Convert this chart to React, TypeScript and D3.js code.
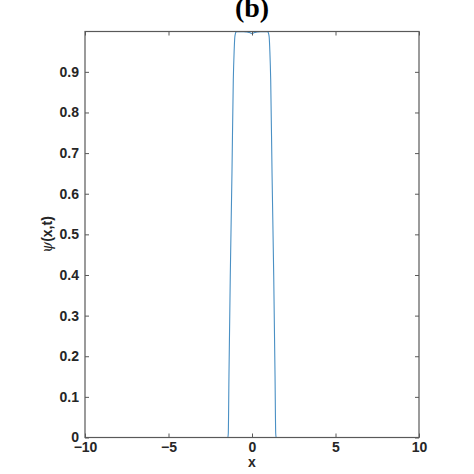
import React, { useEffect, useRef } from 'react';
import * as d3 from 'd3';

// values
const xValues = [-10, -1.6, -1.45, -1.42, -1.38, -1.3, -1.2, -1.12, -1.07, -1.03, -1.0, -0.96, -0.9, -0.7, -0.5, -0.3, -0.15, -0.05, 0,
  0.05, 0.15, 0.3, 0.5, 0.7, 0.9, 0.96, 1.0, 1.03, 1.07, 1.12, 1.2, 1.3, 1.38, 1.42, 1.45, 1.6, 10];
const psiValues = [0, 0, 0, 0.01, 0.15, 0.4, 0.65, 0.88, 0.95, 0.985, 0.993, 0.998, 0.999, 0.999, 0.999, 0.998, 0.997, 0.995, 0.994,
  0.995, 0.997, 0.998, 0.999, 0.999, 0.999, 0.998, 0.993, 0.985, 0.95, 0.88, 0.65, 0.4, 0.15, 0.01, 0, 0, 0];
const xTicks = [-10, -5, 0, 5, 10];
const yTicks = [0, 0.1, 0.2, 0.3, 0.4, 0.5, 0.6, 0.7, 0.8, 0.9];

export default function App() {
  const svgRef = useRef<SVGSVGElement>(null);

  useEffect(() => {
    if (!svgRef.current) return;
    const width = 474;
    const height = 474;
    const margin = { top: 31.5, right: 55, bottom: 36.5, left: 85 };
    const w = width - margin.left - margin.right;
    const h = height - margin.top - margin.bottom;

    const svg = d3.select(svgRef.current);
    svg.selectAll("*").remove();

    const x = d3.scaleLinear().domain([-10, 10]).range([0, w]);
    const y = d3.scaleLinear().domain([0, 0.9993]).range([h, 0]);

    const g = svg.append("g").attr("transform", `translate(${margin.left},${margin.top})`);
    const axisColor = "#595959";
    const font = "'Liberation Sans', Arial, sans-serif";

    // curve
    const line = d3.line<number>()
      .x((_, i) => x(xValues[i]))
      .y(d => y(d))
      .curve(d3.curveMonotoneX);

    g.append("path")
      .datum(psiValues)
      .attr("d", line)
      .attr("fill", "none")
      .attr("stroke", "#4a90c4")
      .attr("stroke-width", 1.1);

    // axes with inward ticks
    const bottom = g.append("g")
      .attr("transform", `translate(0,${h})`)
      .call(d3.axisBottom(x).tickValues(xTicks).tickSizeInner(-4).tickSizeOuter(0).tickPadding(5).tickFormat(d3.format("d")));
    const left = g.append("g")
      .call(d3.axisLeft(y).tickValues(yTicks).tickSizeInner(-4).tickSizeOuter(0).tickPadding(6).tickFormat(d => d === 0 ? "0" : d3.format(".1f")(d as number)));
    const top = g.append("g")
      .call(d3.axisTop(x).tickValues(xTicks).tickSizeInner(-4).tickSizeOuter(0).tickFormat(() => ""));
    const right = g.append("g")
      .attr("transform", `translate(${w},0)`)
      .call(d3.axisRight(y).tickValues(yTicks).tickSizeInner(-4).tickSizeOuter(0).tickFormat(() => ""));

    [bottom, left, top, right].forEach(a => {
      a.select(".domain").remove();
      a.selectAll("line").attr("stroke", axisColor);
      a.selectAll("text")
        .attr("fill", "#262626")
        .attr("font-family", font)
        .attr("font-weight", "bold")
        .attr("font-size", 14);
    });

    g.append("rect")
      .attr("width", w)
      .attr("height", h)
      .attr("fill", "none")
      .attr("stroke", axisColor)
      .attr("stroke-width", 1.2);

    // labels
    svg.append("text")
      .attr("x", margin.left + w / 2)
      .attr("y", 467)
      .attr("text-anchor", "middle")
      .attr("font-family", font)
      .attr("font-weight", "bold")
      .attr("font-size", 14)
      .attr("fill", "#262626")
      .text("x");

    const yl = svg.append("text")
      .attr("transform", `translate(52,${margin.top + h / 2}) rotate(-90)`)
      .attr("text-anchor", "middle")
      .attr("font-family", font)
      .attr("font-size", 14)
      .attr("fill", "#262626");
    yl.append("tspan").attr("font-style", "italic").attr("font-family", "'DejaVu Serif', serif").text("ψ");
    yl.append("tspan").attr("font-weight", "bold").text("(x,t)");

    svg.append("text")
      .attr("x", margin.left + w / 2)
      .attr("y", 17)
      .attr("text-anchor", "middle")
      .attr("font-family", "'Liberation Serif', 'Times New Roman', serif")
      .attr("font-weight", "bold")
      .attr("font-size", 28)
      .attr("fill", "#000")
      .text("(b)");
  }, []);

  return (
    <svg ref={svgRef} width={474} height={474} style={{ position: "absolute", left: 0, top: 0, background: "#fff" }} />
  );
}
